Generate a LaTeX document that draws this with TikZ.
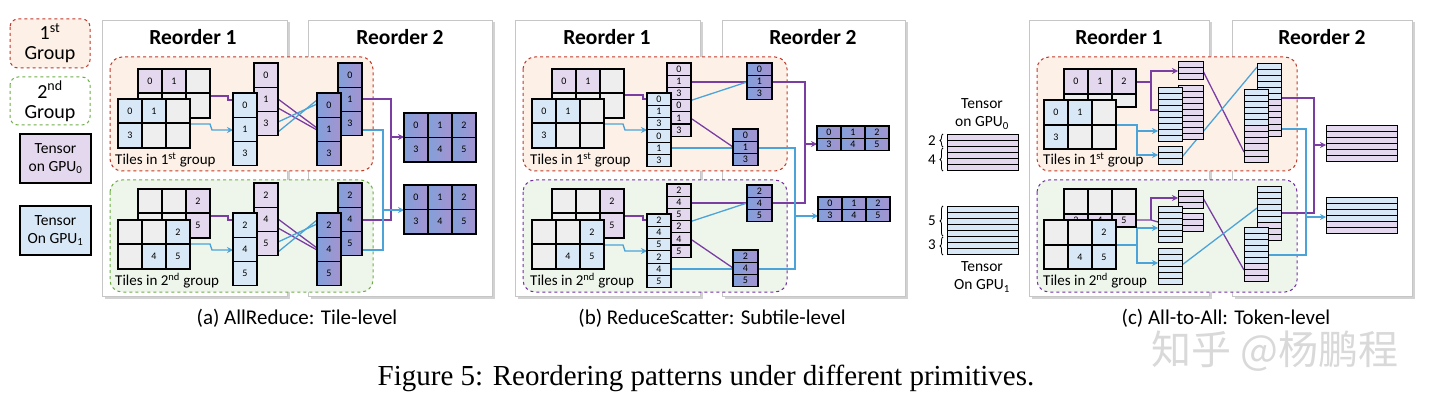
\documentclass[tikz,border=0pt]{standalone}
\usepackage{fontspec}
\setmainfont{Carlito}
\newfontfamily\serf{Liberation Serif}
\newfontfamily\cjk{Noto Sans CJK SC}
\usetikzlibrary{shadows,arrows.meta,decorations.pathreplacing}
\definecolor{pufill}{HTML}{E4D8EE}
\definecolor{blfill}{HTML}{D9E8F6}
\definecolor{gyfill}{HTML}{EEEEEE}
\definecolor{gdA}{HTML}{82A0DA}
\definecolor{gdB}{HTML}{A593CF}
\definecolor{linepu}{HTML}{7A3EA3}
\definecolor{linebl}{HTML}{4BA3D8}
\definecolor{gred}{HTML}{C0392B}
\definecolor{ggreen}{HTML}{70AD47}
\definecolor{gpur}{HTML}{7030A0}
\definecolor{g1fill}{HTML}{FDF1E7}
\definecolor{g2fill}{HTML}{EEF6EB}
\tikzset{
 cellb/.style={draw=black,line width=1.1pt},
 pu/.style={cellb,fill=pufill}, bl/.style={cellb,fill=blfill},
 gy/.style={cellb,fill=gyfill}, gd/.style={cellb,left color=gdA,right color=gdB},
 pus/.style={draw=black,line width=0.9pt,fill=pufill}, bls/.style={draw=black,line width=0.9pt,fill=blfill},
 num/.style={font=\fontsize{10}{10}\selectfont,inner sep=0},
 pline/.style={draw=linepu,line width=1.3pt}, bline/.style={draw=linebl,line width=1.3pt},
 ar/.style={-{Stealth[length=6pt,width=6pt]}},
 panel/.style={draw=gray!45,line width=0.8pt,fill=white,drop shadow={shadow xshift=2.5pt,shadow yshift=-2.5pt,opacity=.35,fill=gray}},
 title/.style={font=\fontsize{21.5}{21.5}\selectfont\bfseries},
 grp/.style={rounded corners=12pt,dashed,line width=1pt},
 g1/.style={grp,draw=gred,fill=g1fill}, g2a/.style={grp,draw=ggreen,fill=g2fill}, g2b/.style={grp,draw=gpur,fill=g2fill},
 tl/.style={font=\fontsize{15}{15}\selectfont,anchor=west,inner sep=0},
 sub/.style={font=\fontsize{21}{21}\selectfont},
 leg/.style={font=\fontsize{15.5}{18}\selectfont,align=center},
}
\newcommand\cl[6]{\path[#5] (#1,#2) rectangle ++(#3,#4); \node[num] at ({#1+#3/2},{#2+#4/2}) {#6};}
\newcommand\trow[9]{\cl{#1}{#2}{24}{#3}{#4}{#5}\cl{#1+24}{#2}{24}{#3}{#6}{#7}\cl{#1+48}{#2}{24}{#3}{#8}{#9}}
\newcommand\colm[6]{\foreach \t [count=\i from 0] in {#6} {\cl{#1}{#2+\i*#4}{#3}{#4}{#5}{\t}}}
\newcommand\stk[5]{\foreach \i in {1,...,#4} {\path[#5] (#1,{#2+(\i-1)*6.1}) rectangle ++(#3,6.1);}}
\begin{document}
\begin{tikzpicture}[x=1pt,y=-1pt]
\useasboundingbox[fill=white] (0,0) rectangle (1440,406);
% legend
\path[g1,rounded corners=8pt] (10,19) rectangle (90,68);
\node[font=\fontsize{20}{20}\selectfont,align=center] (l1) at (50,43) {1\textsuperscript{st}\\Group};
\path[g2a,fill=white,rounded corners=8pt] (10,77) rectangle (90,125);
\node[font=\fontsize{20}{20}\selectfont,align=center] (l2) at (50,101) {2\textsuperscript{nd}\\Group};
\path[cellb,fill=pufill] (20,134) rectangle (91,183);
\node[leg] (l3) at (55.5,158.5) {Tensor\\on GPU\textsubscript{0}};
\path[cellb,fill=blfill] (20,206) rectangle (91,255);
\node[leg] (l4) at (55.5,230.5) {Tensor\\On GPU\textsubscript{1}};

% ================= (a)
\path[panel] (102,20) rectangle (287,296);
\path[panel] (308,20) rectangle (492,296);
\node[title] (ta1) at (193,37) {Reorder 1};
\node[title] (ta2) at (400,37) {Reorder 2};
\path[g1] (110,57) rectangle (373,171);
\path[g2a] (110,180) rectangle (373,292);
\node[tl] (la1) at (115,160) {Tiles in 1\textsuperscript{st} group};
\node[tl] (la2) at (115,281) {Tiles in 2\textsuperscript{nd} group};
\foreach \d in {0,120}{
 \draw[pline] (210,{96+\d})--(228,{96+\d})--(228,{100+\d})--(233,{100+\d});
 \draw[bline,ar] (191,{124+\d})--(210,{124+\d})--(212,{130+\d})--(233,{130+\d});
 \draw[pline] (278,{99+\d})--(317,{128+\d});
 \draw[pline] (278,{108+\d})--(317,{130+\d});
 \draw[bline] (278,{122+\d})--(317,{104+\d});
 \draw[bline] (278,{132+\d})--(317,{100+\d});
}
\draw[pline] (362,99)--(391,99)--(391,220)--(362,220);
\draw[pline,ar] (391,137)--(404,137);
\draw[bline] (341,130)--(383,130)--(383,250)--(341,250);
\draw[bline,ar] (383,210)--(404,210);
\trow{138}{69}{24}{pu}{0}{pu}{1}{gy}{}
\trow{138}{93}{25}{gy}{}{gy}{}{gy}{}
\trow{118}{99}{24}{bl}{0}{bl}{1}{gy}{}
\trow{118}{123}{25}{bl}{3}{gy}{}{gy}{}
\colm{254}{63}{24}{24.3}{pu}{0,1,3}
\colm{233}{93}{24}{24.3}{bl}{0,1,3}
\colm{338}{63}{24}{24.3}{gd}{0,1,3}
\colm{317}{93}{24}{24.3}{gd}{0,1,3}
\trow{138}{189}{24}{gy}{}{gy}{}{pu}{2}
\trow{138}{213}{25}{gy}{}{gy}{}{pu}{5}
\trow{118}{220}{24}{gy}{}{gy}{}{bl}{2}
\trow{118}{244}{25}{gy}{}{bl}{4}{bl}{5}
\colm{254}{183}{24}{24.3}{pu}{2,4,5}
\colm{233}{213}{24}{24.3}{bl}{2,4,5}
\colm{338}{183}{24}{24.3}{gd}{2,4,5}
\colm{317}{213}{24}{24.3}{gd}{2,4,5}
\trow{404}{113}{24.5}{gd}{0}{gd}{1}{gd}{2}
\trow{404}{137.5}{24.5}{gd}{3}{gd}{4}{gd}{5}
\trow{404}{185}{24.5}{gd}{0}{gd}{1}{gd}{2}
\trow{404}{209.5}{24.5}{gd}{3}{gd}{4}{gd}{5}
\node[sub] (ca) at (297,318) {(a) AllReduce: Tile-level};

% ================= (b)
\path[panel] (515,20) rectangle (700,296);
\path[panel] (722,20) rectangle (905,296);
\node[title] (tb1) at (607,37) {Reorder 1};
\node[title] (tb2) at (813,37) {Reorder 2};
\path[g1] (523,57) rectangle (787,171);
\path[g2b] (523,180) rectangle (787,292);
\node[tl] (lb1) at (530,160) {Tiles in 1\textsuperscript{st} group};
\node[tl] (lb2) at (530,281) {Tiles in 2\textsuperscript{nd} group};
\foreach \d in {0,121}{
 \draw[pline] (624,{95+\d})--(643,{95+\d})--(643,{99+\d})--(647,{99+\d});
 \draw[bline,ar] (604,{124+\d})--(623,{124+\d})--(625,{130+\d})--(647,{130+\d});
 \draw[pline] (692,{82+\d})--(747,{82+\d});
 \draw[bline] (671,{107+\d})--(747,{82+\d});
 \draw[pline] (692,{119+\d})--(733,{147+\d});
 \draw[bline] (671,{148+\d})--(733,{148+\d});
}
\draw[pline] (772,82)--(805,82)--(805,203)--(772,203);
\draw[pline,ar] (805,144)--(817,144);
\draw[bline] (758,148)--(795,148)--(795,269)--(758,269);
\draw[bline,ar] (795,216)--(818,216);
\trow{552}{69}{24}{pu}{0}{pu}{1}{gy}{}
\trow{552}{93}{25}{gy}{}{gy}{}{gy}{}
\trow{532}{99}{24}{bl}{0}{bl}{1}{gy}{}
\trow{532}{123}{25}{bl}{3}{gy}{}{gy}{}
\colm{667}{63}{24}{12.2}{pu}{0,1,3,0,1,3}
\colm{647}{93}{24}{12.3}{bl}{0,1,3,0,1,3}
\colm{747}{63}{25}{12.3}{gd}{0,1,3}
\colm{733}{129}{25}{12.3}{gd}{0,1,3}
\trow{552}{189}{24}{gy}{}{gy}{}{pu}{2}
\trow{552}{213}{25}{gy}{}{gy}{}{pu}{5}
\trow{532}{220}{24}{gy}{}{gy}{}{bl}{2}
\trow{532}{244}{25}{gy}{}{bl}{4}{bl}{5}
\colm{667}{184}{24}{12.2}{pu}{2,4,5,2,4,5}
\colm{647}{214}{24}{12.3}{bl}{2,4,5,2,4,5}
\colm{747}{185}{25}{12.3}{gd}{2,4,5}
\colm{733}{250}{25}{12.3}{gd}{2,4,5}
\trow{817}{126}{12.3}{gd}{0}{gd}{1}{gd}{2}
\trow{817}{138.3}{12.3}{gd}{3}{gd}{4}{gd}{5}
\trow{818}{197}{12.3}{gd}{0}{gd}{1}{gd}{2}
\trow{818}{209.3}{12.3}{gd}{3}{gd}{4}{gd}{5}
\node[sub] (cb) at (712,318) {(b) ReduceScatter: Subtile-level};

% ================= (c)
\node[leg] (t0) at (982,114) {Tensor\\on GPU\textsubscript{0}};
\stk{947}{134}{71}{6}{pus}
\draw[decorate,decoration={brace,amplitude=3pt},line width=0.8pt] (943,147)--(943,134);
\draw[decorate,decoration={brace,amplitude=3pt},line width=0.8pt] (943,171)--(943,148);
\node[font=\fontsize{15}{15}\selectfont] (n2) at (932,141) {2};
\node[font=\fontsize{15}{15}\selectfont] (n4) at (932,160) {4};
\stk{947}{206}{71}{8}{bls}
\draw[decorate,decoration={brace,amplitude=3pt},line width=0.8pt] (943,236)--(943,206);
\draw[decorate,decoration={brace,amplitude=3pt},line width=0.8pt] (943,255)--(943,237);
\node[font=\fontsize{15}{15}\selectfont] (n5) at (932,221) {5};
\node[font=\fontsize{15}{15}\selectfont] (n3) at (932,245) {3};
\node[leg] (t1) at (982,277) {Tensor\\On GPU\textsubscript{1}};
\path[panel] (1029,20) rectangle (1209,296);
\path[panel] (1232,20) rectangle (1412,296);
\node[title] (tc1) at (1119,37) {Reorder 1};
\node[title] (tc2) at (1322,37) {Reorder 2};
\path[g1] (1037,57) rectangle (1297,171);
\path[g2b] (1037,180) rectangle (1297,292);
\node[tl] (lc1) at (1043,160) {Tiles in 1\textsuperscript{st} group};
\node[tl] (lc2) at (1043,281) {Tiles in 2\textsuperscript{nd} group};
% lines g1
\draw[pline] (1136,82)--(1151,82)--(1151,110)--(1158,110);
\draw[pline,ar] (1151,82)--(1151,71)--(1178,71);
\draw[bline] (1116,125)--(1137,125)--(1137,131);
\draw[bline,ar] (1137,131)--(1158,131);
\draw[bline,ar] (1137,131)--(1137,155)--(1158,155);
\draw[pline] (1203,71)--(1244,152);
\draw[bline] (1182,157)--(1257,67);
% lines g2
\draw[pline] (1136,220)--(1151,220)--(1158,222);
\draw[pline,ar] (1151,220)--(1151,198)--(1178,198);
\draw[bline,ar] (1116,245)--(1137,245)--(1137,228)--(1158,228);
\draw[bline,ar] (1137,245)--(1137,263)--(1158,263);
\draw[pline] (1203,198)--(1244,270);
\draw[bline] (1182,265)--(1257,208);
% outputs
\draw[pline] (1281,98)--(1314,98)--(1314,213)--(1281,213);
\draw[pline,ar] (1314,145)--(1326,145);
\draw[bline] (1268,129)--(1306,129)--(1306,255)--(1268,255);
\draw[bline,ar] (1306,217)--(1326,217);
% grids g1
\trow{1064}{69}{25}{pu}{0}{pu}{1}{pu}{2}
\trow{1064}{94}{13}{gy}{}{gy}{}{gy}{}
\trow{1044}{100}{25}{bl}{0}{bl}{1}{gy}{}
\trow{1044}{125}{24}{bl}{3}{gy}{}{gy}{}
\stk{1178}{61}{25}{3}{pus}
\stk{1178}{85}{25}{9}{pus}
\stk{1158}{87}{24}{9}{bls}
\stk{1158}{146}{24}{3}{bls}
\stk{1257}{63}{24}{6}{bls}
\stk{1257}{99.6}{24}{6}{pus}
\stk{1244}{89}{24}{6}{bls}
\stk{1244}{125.6}{24}{6}{pus}
% grids g2
\trow{1064}{189}{25}{gy}{}{gy}{}{gy}{}
\trow{1064}{214}{13}{pu}{2}{pu}{4}{pu}{5}
\trow{1044}{220}{25}{gy}{}{gy}{}{bl}{2}
\trow{1044}{245}{24}{gy}{}{bl}{4}{bl}{5}
\stk{1178}{190}{25}{3}{pus}
\stk{1178}{213}{25}{3}{pus}
\stk{1158}{206}{24}{6}{bls}
\stk{1158}{248}{24}{6}{bls}
\stk{1257}{186}{24}{6}{bls}
\stk{1257}{222.6}{24}{3}{pus}
\stk{1244}{227}{24}{6}{bls}
\stk{1244}{263.6}{24}{3}{pus}
% results
\stk{1326}{125}{71}{6}{pus}
\stk{1326}{197}{71}{4}{bls}
\stk{1326}{221.4}{71}{2}{pus}
\node[sub] (cc) at (1226,318) {(c) All-to-All: Token-level};

% caption and watermark
\node[font=\fontsize{40}{40}\selectfont\cjk,text=gray!30] (wm) at (1275,351) {知乎 @杨鹏程};
\node[font=\serf\fontsize{29}{29}\selectfont] (cap) at (706,378) {Figure 5: Reordering patterns under different primitives.};
\end{tikzpicture}
\end{document}
